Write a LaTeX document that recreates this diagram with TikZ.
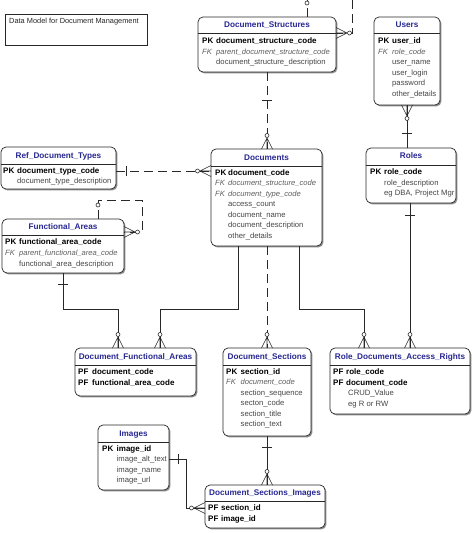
\documentclass[tikz,border=0pt]{standalone}
\usepackage{fontspec}
\setmainfont{Liberation Sans}
\usetikzlibrary{shadows}
\definecolor{ttl}{RGB}{40,40,145}
\definecolor{txt}{RGB}{70,70,70}
\definecolor{fkc}{RGB}{95,95,95}
\definecolor{ln}{RGB}{40,40,40}
\tikzset{
 ebox/.style={draw=ln, line width=0.7pt, rounded corners=5pt, fill=white, anchor=north west, inner sep=0pt, outer sep=0pt,
   drop shadow={shadow xshift=1.4pt, shadow yshift=-1.4pt, fill=black!45, opacity=1}},
 nbox/.style={draw=ln, line width=0.6pt, fill=white, anchor=north west, inner sep=0pt, outer sep=0pt,
   drop shadow={shadow xshift=1.4pt, shadow yshift=-1.4pt, fill=black!45, opacity=1}},
 tx/.style={inner sep=0pt, text height=5.8pt, text depth=1.6pt},
 ttlnode/.style={tx, font=\fontsize{8.2}{9}\selectfont\bfseries, text=ttl},
 keyb/.style={tx, anchor=west, font=\fontsize{8}{9}\selectfont\bfseries, text=black},
 keyi/.style={tx, anchor=west, font=\fontsize{7.6}{9}\selectfont\itshape, text=fkc},
 row/.style={tx, anchor=west, font=\fontsize{7.7}{9}\selectfont, text=txt},
 notetxt/.style={tx, anchor=west, font=\fontsize{7.4}{9}\selectfont, text=black!85},
 hline/.style={draw=ln, line width=0.6pt},
 conn/.style={draw=ln, line width=0.6pt},
 dconn/.style={conn, dash pattern=on 9pt off 5pt},
 crow/.pic={\draw[conn] (0,-11) -- (-5.5,0) (0,-11) -- (0,0) (0,-11) -- (5.5,0);
            \draw[conn, fill=white, solid] (0,-13.5) circle (2pt);},
 onebar/.pic={\draw[conn, solid] (-5,0) -- (5,0);},
 zerocirc/.pic={\draw[conn, fill=white, solid] (0,0) circle (2pt);}
}
\newcommand\entbox[6]{% name x1 y1 x2 y2 headerY
  \node[ebox, minimum width={#4pt-#2pt}, minimum height={#5pt-#3pt}] (#1) at (#2,#3) {};
  \draw[hline] (#1.west |- 0,#6) -- (#1.east |- 0,#6);}
\begin{document}
\begin{tikzpicture}[x=1pt, y=-1pt]
\useasboundingbox (0,0) rectangle (474,533);

% note
\node[nbox, minimum width=142pt, minimum height=31pt] (note) at (5,14) {};
\node[notetxt] (notet) at (9,21) {Data Model for Document Management};

% Document_Structures
\entbox{ds}{198}{17}{336}{72}{33}
\node[ttlnode] (dst) at (267,25) {Document\_Structures};
\node[keyb] at (202,41.5) {PK}; \node[keyb] at (216,41.5) {document\_structure\_code};
\node[keyi] at (202,52) {FK}; \node[keyi] at (216,52) {parent\_document\_structure\_code};
\node[row] at (216,62.5) {document\_structure\_description};

% Users
\entbox{users}{374}{17}{440}{105}{33}
\node[ttlnode] (ust) at (407,25) {Users};
\node[keyb] at (378,41.5) {PK}; \node[keyb] at (392,41.5) {user\_id};
\node[keyi] at (378,52) {FK}; \node[keyi] at (392,52) {role\_code};
\node[row] at (392,62.5) {user\_name};
\node[row] at (392,73) {user\_login};
\node[row] at (392,83.5) {password};
\node[row] at (392,94) {other\_details};

% Roles
\entbox{roles}{366}{148}{456}{203}{165}
\node[ttlnode] (rot) at (411,156) {Roles};
\node[keyb] at (370,172.5) {PK}; \node[keyb] at (384,172.5) {role\_code};
\node[row] at (384,183) {role\_description};
\node[row] at (384,193.5) {eg DBA, Project Mgr};

% Ref_Document_Types
\entbox{ref}{1}{147}{116}{189}{164}
\node[ttlnode] (reft) at (58.5,156) {Ref\_Document\_Types};
\node[keyb] at (3,171) {PK}; \node[keyb] at (17,171) {document\_type\_code};
\node[row] at (17,181.5) {document\_type\_description};

% Documents
\entbox{docs}{211}{149}{322}{246}{166}
\node[ttlnode] (doct) at (266.5,158) {Documents};
\node[keyb] at (215,173) {PK}; \node[keyb] at (228,173) {document\_code};
\node[keyi] at (215,183.5) {FK}; \node[keyi] at (228,183.5) {document\_structure\_code};
\node[keyi] at (215,194) {FK}; \node[keyi] at (228,194) {document\_type\_code};
\node[row] at (228,204.5) {access\_count};
\node[row] at (228,215) {document\_name};
\node[row] at (228,225.5) {document\_description};
\node[row] at (228,236.5) {other\_details};

% Functional_Areas
\entbox{fa}{2}{219}{124}{273}{235}
\node[ttlnode] (fat) at (63,227) {Functional\_Areas};
\node[keyb] at (5,242.5) {PK}; \node[keyb] at (19,242.5) {functional\_area\_code};
\node[keyi] at (5,253) {FK}; \node[keyi] at (19,253) {parent\_functional\_area\_code};
\node[row] at (19,264) {functional\_area\_description};

% Document_Functional_Areas
\entbox{dfa}{75}{348}{196}{396}{365}
\node[ttlnode] (dfat) at (135.5,357) {Document\_Functional\_Areas};
\node[keyb] at (78,372.5) {PF}; \node[keyb] at (92,372.5) {document\_code};
\node[keyb] at (78,383) {PF}; \node[keyb] at (92,383) {functional\_area\_code};

% Document_Sections
\entbox{dsec}{223}{348}{311}{436}{365}
\node[ttlnode] (dsect) at (267,357) {Document\_Sections};
\node[keyb] at (226,372) {PK}; \node[keyb] at (240.5,372) {section\_id};
\node[keyi] at (226,382.5) {FK}; \node[keyi] at (240.5,382.5) {document\_code};
\node[row] at (240.5,393) {section\_sequence};
\node[row] at (240.5,403.5) {secton\_code};
\node[row] at (240.5,414) {section\_title};
\node[row] at (240.5,424.5) {section\_text};

% Role_Documents_Access_Rights
\entbox{rdar}{330}{348}{470}{414}{365}
\node[ttlnode] (rdart) at (400,357) {Role\_Documents\_Access\_Rights};
\node[keyb] at (333,372) {PF}; \node[keyb] at (346,372) {role\_code};
\node[keyb] at (333,383) {PF}; \node[keyb] at (346,383) {document\_code};
\node[row] at (348,393.5) {CRUD\_Value};
\node[row] at (348,404.5) {eg R or RW};

% Images
\entbox{images}{98}{425}{169}{490}{442}
\node[ttlnode] (imt) at (133.5,434) {Images};
\node[keyb] at (102,449) {PK}; \node[keyb] at (116.5,449) {image\_id};
\node[row] at (116.5,459.5) {image\_alt\_text};
\node[row] at (116.5,470) {image\_name};
\node[row] at (116.5,480.5) {image\_url};

% Document_Sections_Images
\entbox{dsi}{205}{485}{325}{528}{501}
\node[ttlnode] (dsit) at (265,493) {Document\_Sections\_Images};
\node[keyb] at (208,508) {PF}; \node[keyb] at (221,508) {section\_id};
\node[keyb] at (208,519) {PF}; \node[keyb] at (221,519) {image\_id};

% ---------- connectors ----------
% Document_Structures self relationship
\draw[dconn] (ds.north -| 307,0) |- (352,-4) |- (ds.east |- 0,33);
\pic at (307,3) {zerocirc};
\pic[rotate=-90] at (ds.east |- 0,33) {crow};

% Users - Roles
\draw[conn] (users.south -| 407,0) -- (roles.north -| 407,0);
\pic[rotate=180] at (users.south -| 407,0) {crow};
\pic at (407,133) {onebar};

% Roles - Role_Documents_Access_Rights
\draw[conn] (roles.south -| 410,0) -- (rdar.north -| 410,0);
\pic at (410,215) {onebar};
\pic at (rdar.north -| 410,0) {crow};

% Document_Structures - Documents
\draw[dconn] (ds.south -| 267,0) -- (docs.north -| 267,0);
\pic at (267,100) {onebar};
\pic at (docs.north -| 267,0) {crow};

% Ref_Document_Types - Documents
\draw[dconn] (ref.east |- 0,171) -- (docs.west |- 0,171);
\pic[rotate=90] at (126,171) {onebar};
\pic[rotate=90] at (docs.west |- 0,171) {crow};

% Functional_Areas self relationship
\draw[dconn] (fa.north -| 98,0) |- (142,200) |- (fa.east |- 0,232);
\pic at (98,205) {zerocirc};
\pic[rotate=-90] at (fa.east |- 0,232) {crow};

% Functional_Areas - Document_Functional_Areas
\draw[conn] (fa.south -| 63,0) |- (118,309) -- (dfa.north -| 118,0);
\pic at (63,284) {onebar};
\pic at (dfa.north -| 118,0) {crow};

% Documents - Document_Functional_Areas
\draw[conn] (docs.south -| 238,0) |- (160,309) -- (dfa.north -| 160,0);
\pic at (dfa.north -| 160,0) {crow};

% Documents - Document_Sections
\draw[dconn] (docs.south -| 267,0) -- (dsec.north -| 267,0);
\pic at (dsec.north -| 267,0) {crow};

% Documents - Role_Documents_Access_Rights
\draw[conn] (docs.south -| 299,0) |- (364,309) -- (rdar.north -| 364,0);
\pic at (rdar.north -| 364,0) {crow};

% Document_Sections - Document_Sections_Images
\draw[conn] (dsec.south -| 267,0) -- (dsi.north -| 267,0);
\pic at (267,447) {onebar};
\pic at (dsi.north -| 267,0) {crow};

% Images - Document_Sections_Images
\draw[conn] (images.east |- 0,459) -| (186,508) -- (dsi.west |- 0,508);
\pic[rotate=90] at (178,459) {onebar};
\pic[rotate=90] at (dsi.west |- 0,508) {crow};
\end{tikzpicture}
\end{document}
